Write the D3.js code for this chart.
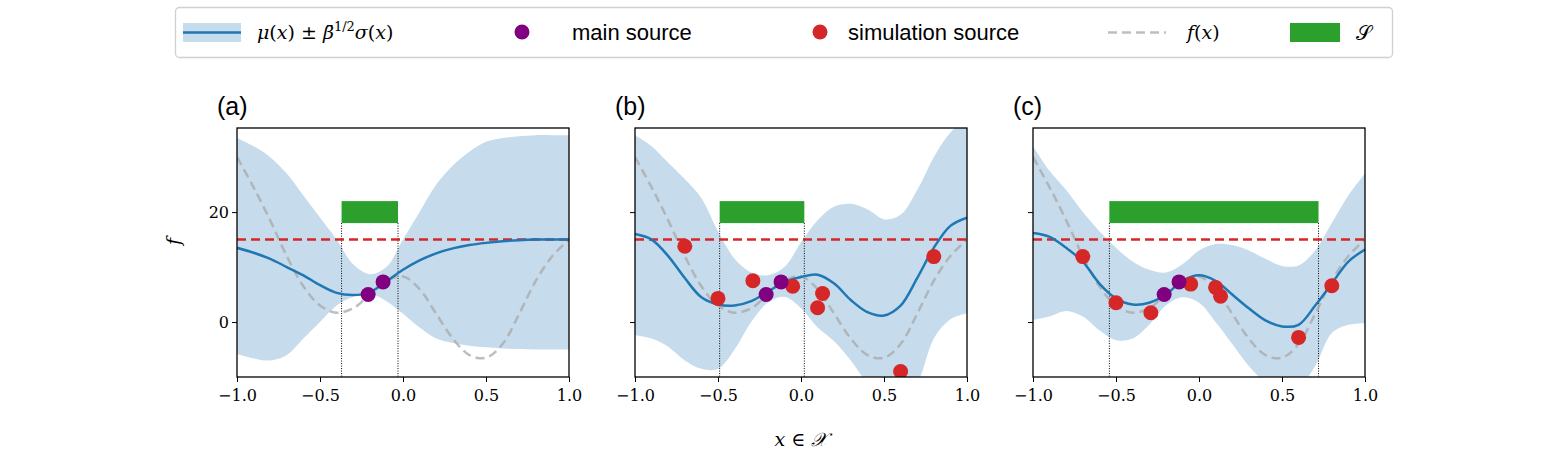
<!DOCTYPE html>
<html><head><meta charset="utf-8">
<script src="https://cdn.jsdelivr.net/npm/d3@7"></script>
<style>body{margin:0;background:#fff}</style>
</head><body>
<svg id="chart" width="1551" height="470"></svg>
<script>
// grid shared by every curve
var xs = [-1,-0.9,-0.8,-0.7,-0.6,-0.5,-0.4,-0.3,-0.2,-0.1,0,0.1,0.2,0.3,0.4,0.5,0.6,0.7,0.8,0.9,1];
var fTrue = [30,24.5,18.5,12,6.5,3,1.7,2.5,5,7.5,8.3,6,1.5,-3,-6,-6.5,-4,1.5,7.5,12,15];
var threshold = 15;

var meanA  = [13.5,12.6,11.5,10,8.5,6.7,5.3,4.9,5.4,7.4,9.5,11.2,12.5,13.4,14,14.4,14.7,14.9,15,15,15];
var upperA = [33.5,32,30,27,23,19,15,10.5,8.7,10,15,20,25,28.5,31,32.8,33.5,33.8,34,34,34];
var lowerA = [-5.8,-6.6,-7,-6,-3,0,3,4.6,5.2,3.8,1.5,-1,-3,-3.8,-4.3,-4.6,-4.8,-4.9,-5,-5,-5];

var meanB  = [16,15,12,8,4.5,3.2,3,3.8,5.5,7.3,8.2,8.6,7,4,1.8,1.2,3,8,13.5,17.5,19];
var upperB = [34,32,29,26,22.5,16.5,11.5,9,8.5,10,14.5,18.5,21,21.5,20.5,18.7,19.5,24,30,34.5,37];
var lowerB = [-2.4,-3,-4.5,-7,-8.5,-8.5,-5,0,3.5,4.6,2.5,-1,-3.5,-7,-11,-13,-13.5,-11,-3,0.5,1.6];

var meanC  = [16.2,15.5,13.5,11,7,4.3,3.2,3.5,5,7.5,8.5,7.5,5,2.5,0.3,-0.8,-0.5,3,7,11,13.2];
var upperC = [32,27.5,24,20,16.5,13.5,11,9.5,9,10.5,13,14.2,14,13,11.5,10.2,10.3,13,18,23,27];
var lowerC = [0.4,1,2,1,-1.5,-3.3,-3,-0.5,3,4.5,3.5,0,-4,-8,-11,-13,-12,-8,-2,-0.5,-0.2];

var mainX = [-0.21,-0.12];
var mainY = [5,7.3];

var simXB = [-0.7,-0.5,-0.29,-0.05,0.13,0.1,0.6,0.8];
var simYB = [13.8,4.3,7.5,6.5,5.2,2.6,-9,11.9];
var simXC = [-0.7,-0.5,-0.29,-0.05,0.1,0.13,0.6,0.8];
var simYC = [11.9,3.5,1.7,6.9,6.3,4.7,-2.8,6.6];

var safeA = [-0.37,-0.03];
var safeB = [-0.49,0.02];
var safeC = [-0.54,0.72];

var panelLabels = ["(a)","(b)","(c)"];
var xTicks = [-1,-0.5,0,0.5,1];
var yTicks = [0,20];

var panels = [
  {mean:meanA, up:upperA, lo:lowerA, sx:[], sy:[], safe:safeA, left:237},
  {mean:meanB, up:upperB, lo:lowerB, sx:simXB, sy:simYB, safe:safeB, left:635},
  {mean:meanC, up:upperC, lo:lowerC, sx:simXC, sy:simYC, safe:safeC, left:1033}
];

var svg = d3.select("#chart");
var serif = "'DejaVu Serif', serif";
var sans = "'Liberation Sans', Arial, sans-serif";
var W = 332, yTop = 128, yBot = 377;
var y = d3.scaleLinear().domain([-10, 35.3]).range([yBot, yTop]);
var fmt = function(d){ return d.toFixed(1).replace("-", "\u2212"); };

panels.forEach(function(p, i) {
  var x = d3.scaleLinear().domain([-1,1]).range([p.left, p.left + W]);
  var g = svg.append("g");
  var cid = "clip" + i;
  svg.append("clipPath").attr("id", cid).append("rect")
    .attr("x", p.left).attr("y", yTop).attr("width", W).attr("height", yBot - yTop);
  var pg = g.append("g").attr("clip-path", "url(#" + cid + ")");
  var idx = d3.range(xs.length);

  pg.append("path").datum(idx)
    .attr("d", d3.area().x(function(k){return x(xs[k]);}).y0(function(k){return y(p.lo[k]);})
      .y1(function(k){return y(p.up[k]);}).curve(d3.curveCatmullRom))
    .attr("fill", "#c6dcec");
  // safe set
  pg.append("rect").attr("x", x(p.safe[0])).attr("width", x(p.safe[1]) - x(p.safe[0]))
    .attr("y", y(22)).attr("height", y(18) - y(22)).attr("fill", "#2ca02c");
  p.safe.forEach(function(s) {
    pg.append("line").attr("x1", x(s)).attr("x2", x(s)).attr("y1", y(18)).attr("y2", yBot)
      .attr("stroke", "#000").attr("stroke-width", 1).attr("stroke-dasharray", "1,1.5");
  });
  pg.append("path").datum(idx)
    .attr("d", d3.line().x(function(k){return x(xs[k]);}).y(function(k){return y(fTrue[k]);}).curve(d3.curveCatmullRom))
    .attr("fill", "none").attr("stroke", "#a8a8a8").attr("stroke-opacity", 0.75)
    .attr("stroke-width", 2.5).attr("stroke-dasharray", "9,5");
  pg.append("line").attr("x1", p.left).attr("x2", p.left + W).attr("y1", y(threshold)).attr("y2", y(threshold))
    .attr("stroke", "#d62728").attr("stroke-width", 2.5).attr("stroke-dasharray", "9,5");
  pg.append("path").datum(idx)
    .attr("d", d3.line().x(function(k){return x(xs[k]);}).y(function(k){return y(p.mean[k]);}).curve(d3.curveCatmullRom))
    .attr("fill", "none").attr("stroke", "#1f77b4").attr("stroke-width", 2.5);
  p.sx.forEach(function(v, k) {
    pg.append("circle").attr("cx", x(v)).attr("cy", y(p.sy[k])).attr("r", 7.5).attr("fill", "#d62728");
  });
  mainX.forEach(function(v, k) {
    pg.append("circle").attr("cx", x(v)).attr("cy", y(mainY[k])).attr("r", 7.5).attr("fill", "#800080");
  });

  g.append("rect").attr("x", p.left).attr("y", yTop).attr("width", W).attr("height", yBot - yTop)
    .attr("fill", "none").attr("stroke", "#000").attr("stroke-width", 1.3);

  var xa = g.append("g").attr("transform", "translate(0," + yBot + ")")
    .call(d3.axisBottom(x).tickValues(xTicks).tickFormat(fmt).tickSize(5));
  xa.select(".domain").remove();
  xa.selectAll("text").attr("font-family", serif).attr("font-size", 16).attr("dy", "1.0em");
  var ya = g.append("g").attr("transform", "translate(" + p.left + ",0)")
    .call(d3.axisLeft(y).tickValues(yTicks).tickFormat(i === 0 ? d3.format("d") : "").tickSize(5));
  ya.select(".domain").remove();
  ya.selectAll("text").attr("font-family", serif).attr("font-size", 16);

  g.append("text").attr("x", p.left - 20).attr("y", 115).text(panelLabels[i])
    .attr("font-family", sans).attr("font-size", 25);
});

svg.append("text").attr("x", 175).attr("y", 250).text("f").attr("font-family", serif)
  .attr("font-style", "italic").attr("font-size", 19).attr("transform", "rotate(-90,175,245)");
svg.append("text").attr("x", 801).attr("y", 446).attr("text-anchor", "middle")
  .attr("font-family", serif).attr("font-size", 19)
  .html("<tspan font-style='italic'>x</tspan> \u2208 <tspan font-style='italic'>\u{1D4B3}</tspan>");

// legend
var lg = svg.append("g");
lg.append("rect").attr("x", 175.5).attr("y", 7.5).attr("width", 1217).attr("height", 50).attr("rx", 4)
  .attr("fill", "#fff").attr("stroke", "#d0d0d0").attr("stroke-width", 1.3);
lg.append("rect").attr("x", 183).attr("y", 23).attr("width", 58).attr("height", 19).attr("fill", "#c6dcec");
lg.append("line").attr("x1", 183).attr("x2", 241).attr("y1", 32.5).attr("y2", 32.5).attr("stroke", "#1f77b4").attr("stroke-width", 2.5);
lg.append("text").attr("x", 257).attr("y", 39).attr("font-family", serif).attr("font-size", 19)
  .html("<tspan font-style='italic'>\u03BC</tspan>(<tspan font-style='italic'>x</tspan>) \u00B1 <tspan font-style='italic'>\u03B2\u0304</tspan><tspan font-size='13' dy='-8'>1/2</tspan><tspan dy='8' font-style='italic'>\u03C3</tspan>(<tspan font-style='italic'>x</tspan>)");
lg.append("circle").attr("cx", 522).attr("cy", 32).attr("r", 7.5).attr("fill", "#800080");
lg.append("text").attr("x", 572).attr("y", 40).text("main source").attr("font-family", sans).attr("font-size", 22);
lg.append("circle").attr("cx", 820).attr("cy", 32).attr("r", 7.5).attr("fill", "#d62728");
lg.append("text").attr("x", 848).attr("y", 40).text("simulation source").attr("font-family", sans).attr("font-size", 22);
lg.append("line").attr("x1", 1108).attr("x2", 1166).attr("y1", 32.5).attr("y2", 32.5).attr("stroke", "#a8a8a8")
  .attr("stroke-opacity", 0.75).attr("stroke-width", 2.5).attr("stroke-dasharray", "9,5");
lg.append("text").attr("x", 1187).attr("y", 39).attr("font-family", serif).attr("font-size", 19)
  .html("<tspan font-style='italic'>f</tspan>(<tspan font-style='italic'>x</tspan>)");
lg.append("rect").attr("x", 1290).attr("y", 23).attr("width", 50).attr("height", 19).attr("fill", "#2ca02c");
lg.append("text").attr("x", 1356).attr("y", 40).attr("font-family", serif).attr("font-size", 20).text("\u{1D4AE}");
</script>
</body></html>
